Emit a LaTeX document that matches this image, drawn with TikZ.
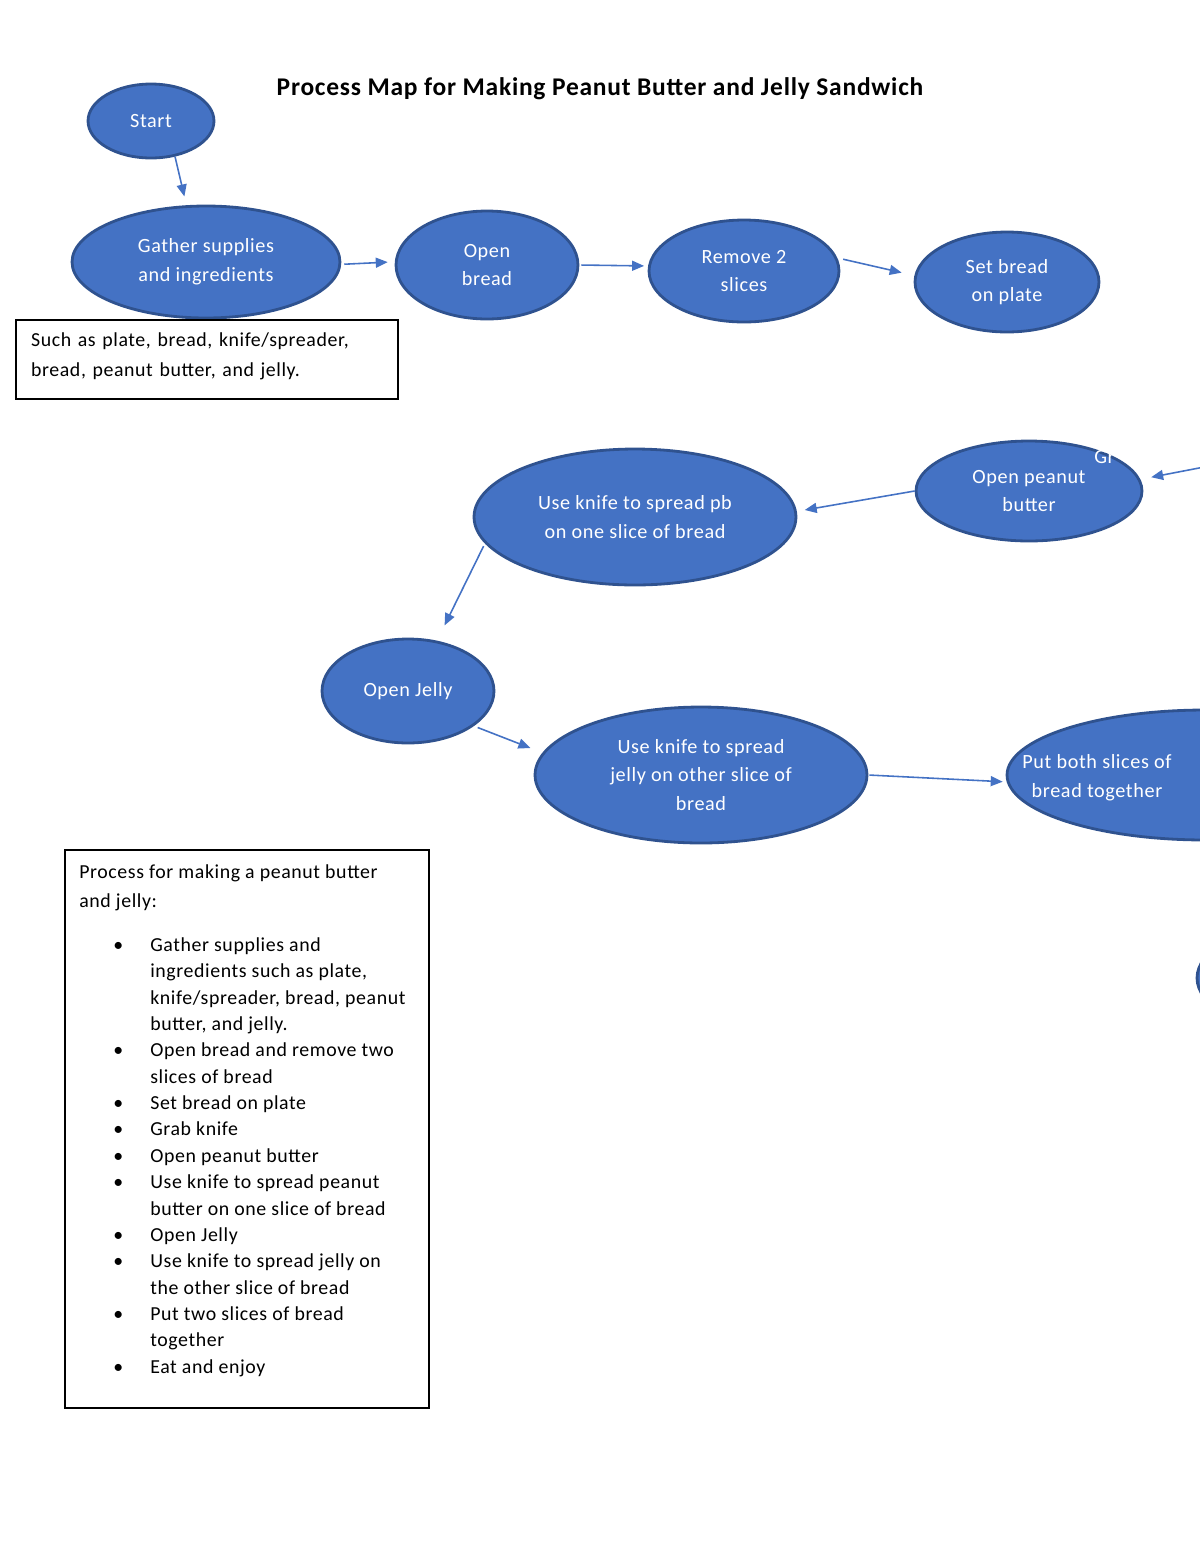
\documentclass[tikz,border=0pt]{standalone}
\usepackage{fontspec}
\setmainfont{Carlito}[LetterSpace=3]
\usetikzlibrary{shapes.geometric,arrows.meta}
\definecolor{stepblue}{HTML}{4472C4}
\definecolor{stepedge}{HTML}{2F528F}
\newcommand\stepitem{\makebox[1.42cm][l]{\hspace{0.68cm}\textbullet}}
\newcommand\stepmore{\hspace*{1.42cm}}
\begin{document}
\begin{tikzpicture}[x=0.02cm, y=-0.02cm,
	stepnode/.style={ellipse, draw=stepedge, line width=1.6pt, fill=stepblue, text=white,
		inner sep=0pt, align=center, font=\fontsize{11.5}{16.3}\selectfont},
	flow/.style={draw=stepblue, line width=0.9pt, -{Triangle[length=0.24cm, width=0.2cm]}},
	notebox/.style={draw=black, line width=1.3pt}]
	\clip (0,0) rectangle (1200,1553);
	% title
	\node (title) at (600,89) {\fontsize{14.5}{17}\selectfont\bfseries Process Map for Making Peanut Butter and Jelly Sandwich};
	
	% first row
	\node[stepnode, minimum width=2.52cm, minimum height=1.48cm] (start) at (151,121) {Start};
	\node[stepnode, minimum width=5.36cm, minimum height=2.24cm] (gather) at (206,262) {Gather supplies\\and ingredients};
	\node[stepnode, minimum width=3.64cm, minimum height=2.16cm] (obread) at (487,265) {Open\\bread};
	\node[stepnode, minimum width=3.8cm, minimum height=2.04cm] (remove) at (744,271) {Remove 2\\slices};
	\node[stepnode, minimum width=3.68cm, minimum height=2.0cm] (setb) at (1007,282) {Set bread\\on plate};
	\node[notebox, anchor=north west, minimum width=7.64cm, minimum height=1.58cm, inner xsep=0.3cm,
		text width=7.04cm, align=left, font=\fontsize{11.3}{17}\selectfont] (supplies) at (15,319)
		{Such as plate, bread, knife/spreader,\\bread, peanut butter, and jelly.\vspace{4pt}};
	
	% second row
	\node[stepnode, minimum width=4.52cm, minimum height=2.0cm] (opb) at (1029,491) {Open peanut\\butter};
	\node[anchor=west, text=white, inner sep=0pt, font=\fontsize{11.5}{16}\selectfont] (grab) at (1094,457) {Gr};
	\coordinate (grabin) at (1225,463);
	\node[stepnode, minimum width=6.44cm, minimum height=2.72cm] (pbknife) at (635,517) {Use knife to spread pb\\on one slice of bread};
	
	% third row
	\node[stepnode, minimum width=3.44cm, minimum height=2.08cm] (ojelly) at (408,691) {Open Jelly};
	\node[stepnode, minimum width=6.64cm, minimum height=2.72cm] (jknife) at (701,775) {Use knife to spread\\jelly on other slice of\\bread};
	\node[stepnode, minimum width=7.92cm, minimum height=2.6cm] (putb) at (1205,775) {};
	\node[text=white, align=center, font=\fontsize{11.5}{16.3}\selectfont] (putbtext) at (1097,778) {Put both slices of\\bread together};
	\node[stepnode, minimum width=3.72cm, minimum height=2.0cm] (eat) at (1290,978) {};
	
	% arrows
	\draw[flow, shorten >=0.18cm] (start.-56) -- (gather.109);
	\draw[flow, shorten <=0.06cm, shorten >=0.14cm] (gather.-1) -- (obread.178);
	\draw[flow, shorten <=0.04cm, shorten >=0.08cm] (obread.0) -- (remove.177);
	\draw[flow, shorten <=0.12cm, shorten >=0.26cm] (remove.8) -- (setb.176);
	\draw[flow, shorten >=0.22cm] (grabin) -- (opb.6);
	\draw[flow, shorten >=0.16cm] (opb.180) -- (pbknife.2);
	\draw[flow, shorten <=0.06cm, shorten >=0.34cm] (pbknife.-170) -- (ojelly.60);
	\draw[flow, shorten <=0.08cm, shorten >=0.26cm] (ojelly.-28) -- (jknife.172);
	\draw[flow, shorten <=0.02cm, shorten >=0.08cm] (jknife.0) -- (putb.182);
	
	% list of steps
	\draw[notebox] (65,850) rectangle (429,1408);
	\node[anchor=north west, align=left, inner sep=0pt, font=\fontsize{11.3}{15}\selectfont] (steps) at (79,864)
		{Process for making a peanut butter\\[1.5pt]
		and jelly:\\[0.36cm]
		\stepitem Gather supplies and\\
		\stepmore ingredients such as plate,\\
		\stepmore knife/spreader, bread, peanut\\
		\stepmore butter, and jelly.\\
		\stepitem Open bread and remove two\\
		\stepmore slices of bread\\
		\stepitem Set bread on plate\\
		\stepitem Grab knife\\
		\stepitem Open peanut butter\\
		\stepitem Use knife to spread peanut\\
		\stepmore butter on one slice of bread\\
		\stepitem Open Jelly\\
		\stepitem Use knife to spread jelly on\\
		\stepmore the other slice of bread\\
		\stepitem Put two slices of bread\\
		\stepmore together\\
		\stepitem Eat and enjoy};
\end{tikzpicture}
\end{document}
